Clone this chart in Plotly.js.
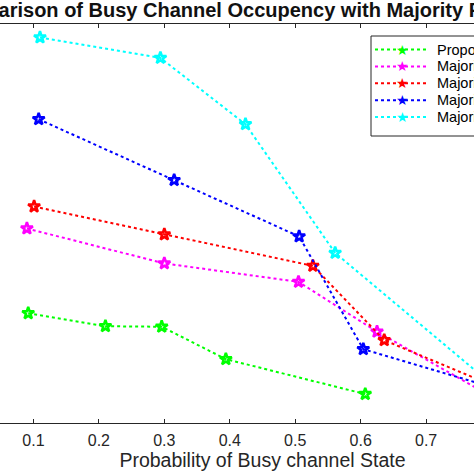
<!DOCTYPE html>
<html>
<head>
<meta charset="utf-8">
<script src="https://cdn.plot.ly/plotly-3.0.1.min.js"></script>
<style>
html,body{margin:0;padding:0;background:#fff;}
#wrap{position:relative;width:474px;height:474px;overflow:hidden;background:#fff;}
#chart{position:absolute;left:-100px;top:0;width:700px;height:474px;}
</style>
</head>
<body>
<div id="wrap"><div id="chart"></div></div>
<script>
const seriesNames = ["Proposed Scheme", "Majority Rule (K=1)", "Majority Rule (K=2)", "Majority Rule (K=3)", "Majority Rule (K=4)"];
const seriesColors = ["#00ff00", "#ff00ff", "#ff0000", "#0000ff", "#00ffff"];

const xGreen   = [0.092, 0.210, 0.296, 0.394, 0.607];
const yGreen   = [0.220, 0.194, 0.193, 0.128, 0.058];
const xMagenta = [0.090, 0.300, 0.505, 0.625, 0.800];
const yMagenta = [0.390, 0.320, 0.283, 0.183, 0.053];
const xRed     = [0.101, 0.300, 0.527, 0.636, 0.800];
const yRed     = [0.434, 0.378, 0.315, 0.166, 0.076];
const xBlue    = [0.108, 0.315, 0.506, 0.604, 0.800];
const yBlue    = [0.609, 0.487, 0.374, 0.148, 0.072];
const xCyan    = [0.110, 0.294, 0.424, 0.561, 0.800];
const yCyan    = [0.773, 0.732, 0.599, 0.341, 0.078];

const xTickVals = [0.1, 0.2, 0.3, 0.4, 0.5, 0.6, 0.7, 0.8];
const xTickText = ["0.1", "0.2", "0.3", "0.4", "0.5", "0.6", "0.7", "0.8"];

const xs = [xGreen, xMagenta, xRed, xBlue, xCyan];
const ys = [yGreen, yMagenta, yRed, yBlue, yCyan];

const traces = xs.map((x, i) => ({
  x: x, y: ys[i], name: seriesNames[i], type: 'scatter', mode: 'lines+markers',
  line: {color: seriesColors[i], width: 2, dash: 'dot'},
  marker: {symbol: 'star-open', size: 9, color: seriesColors[i], line: {color: seriesColors[i], width: 2.5}},
  showlegend: false
}));

// page-pixel -> paper helpers (plot area: div x 68..657, y 24..423; div offset -100)
const MARGIN_L = 68, PLOT_W = 589, MARGIN_T = 24, PLOT_H = 399, OFFSET = 100;
const px = p => (p + OFFSET - MARGIN_L) / PLOT_W;
const py = p => 1 - (p - MARGIN_T) / PLOT_H;

const shapes = [];
const annotations = [];
// custom legend (MATLAB style)
shapes.push({type: 'rect', xref: 'paper', yref: 'paper', x0: px(371), x1: px(552), y0: py(136), y1: py(36),
             line: {color: '#262626', width: 1}, fillcolor: '#ffffff', layer: 'above'});
seriesNames.forEach((nm, i) => {
  const rowY = 49.5 + 16.9 * i;
  shapes.push({type: 'line', xref: 'paper', yref: 'paper', x0: px(375), x1: px(428), y0: py(rowY), y1: py(rowY),
               line: {color: seriesColors[i], width: 2, dash: 'dot'}, layer: 'above'});
  annotations.push({xref: 'paper', yref: 'paper', x: px(402), y: py(rowY), text: '★', showarrow: false,
                    xanchor: 'center', yanchor: 'middle',
                    font: {family: 'DejaVu Sans', size: 14, color: seriesColors[i]}});
  annotations.push({xref: 'paper', yref: 'paper', x: px(435), y: py(rowY), text: nm, showarrow: false,
                    xanchor: 'left', yanchor: 'middle',
                    font: {family: 'Liberation Sans, Arial, sans-serif', size: 14.5, color: '#000000'}});
});

const axisColor = '#262626';
const layout = {
  width: 700, height: 474,
  margin: {l: MARGIN_L, r: 700 - MARGIN_L - PLOT_W, t: MARGIN_T, b: 474 - MARGIN_T - PLOT_H, pad: 0},
  paper_bgcolor: '#ffffff', plot_bgcolor: '#ffffff',
  font: {family: 'Liberation Sans, Arial, sans-serif', color: axisColor},
  title: {text: 'Comparison of Busy Channel Occupency with Majority Fusion Rule',
          font: {size: 20, weight: 'bold', color: '#111111', family: 'Liberation Sans, Arial, sans-serif'},
          x: 0.5, xref: 'paper', xanchor: 'center', y: 0.978, yref: 'container', yanchor: 'middle'},
  xaxis: {range: [0, 0.9], tickvals: xTickVals, ticktext: xTickText,
          ticks: 'inside', ticklen: 4, tickcolor: axisColor, tickwidth: 1,
          showline: true, linecolor: axisColor, linewidth: 1, mirror: 'ticks',
          showgrid: false, zeroline: false, ticklabelstandoff: 3,
          tickfont: {size: 16, color: axisColor},
          title: {text: 'Probability of Busy channel State', font: {size: 19.5, color: axisColor}, standoff: 2},
          automargin: false},
  yaxis: {range: [0, 0.8], ticks: 'inside', ticklen: 4, tickcolor: axisColor,
          showline: true, linecolor: axisColor, linewidth: 1, mirror: 'ticks',
          showgrid: false, zeroline: false, automargin: false,
          tickfont: {size: 14, color: axisColor}},
  showlegend: false,
  shapes: shapes,
  annotations: annotations
};

Plotly.newPlot('chart', traces, layout, {displayModeBar: false, staticPlot: true});
</script>
</body>
</html>
